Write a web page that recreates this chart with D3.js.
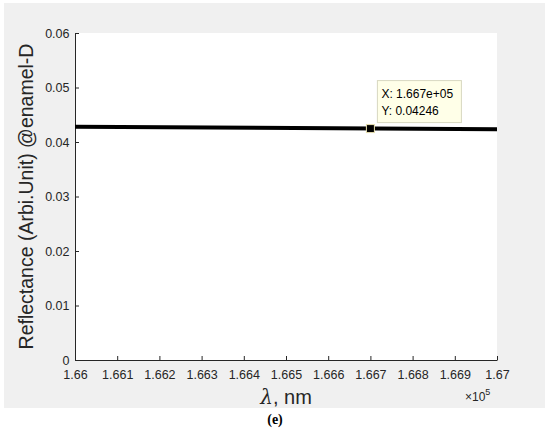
<!DOCTYPE html><html><head><script src="https://cdn.jsdelivr.net/npm/d3@7"></script>
<style>body{margin:0;background:#fff}</style></head><body><svg id="c" width="550" height="428"></svg><script>
const xTicks=[1.66,1.661,1.662,1.663,1.664,1.665,1.666,1.667,1.668,1.669,1.67];
const yTicks=[0,0.01,0.02,0.03,0.04,0.05,0.06];
const lineX=[1.66,1.67];
const lineY=[0.0428,0.04235];
const tipX=1.667, tipY=0.04246;
const svg=d3.select("#c");
svg.append("rect").attr("x",4).attr("y",3).attr("width",541).attr("height",405).attr("fill","#f0f0f0");
const m={l:75,r:497,t:33,b:360};
const x=d3.scaleLinear().domain([1.66,1.67]).range([m.l,m.r]);
const y=d3.scaleLinear().domain([0,0.06]).range([m.b,m.t]);
svg.append("rect").attr("x",m.l).attr("y",m.t).attr("width",m.r-m.l).attr("height",m.b-m.t).attr("fill","#fff");
const f="Arial, 'Liberation Sans', sans-serif";
const xa=svg.append("g").attr("transform",`translate(0,${m.b})`).call(d3.axisBottom(x).tickValues(xTicks).tickFormat(d=>d3.format("")(+d.toFixed(3))).tickSize(-4).tickSizeOuter(0));
const ya=svg.append("g").attr("transform",`translate(${m.l},0)`).call(d3.axisLeft(y).tickValues(yTicks).tickFormat(d=>d===0?"0":d.toFixed(2)).tickSize(-4).tickSizeOuter(0));
[xa,ya].forEach(a=>{a.selectAll("path,line").attr("stroke","#262626");a.selectAll("text").attr("font-family",f).attr("font-size",12.5).attr("fill","#262626");});
xa.selectAll("text").attr("dy","1.25em");
ya.selectAll("text").attr("dx","-0.2em");
const data=lineX.map((v,i)=>[v,lineY[i]]);
svg.append("path").datum(data).attr("d",d3.line().x(d=>x(d[0])).y(d=>y(d[1]))).attr("stroke","#000").attr("stroke-width",4).attr("fill","none");
svg.append("rect").attr("x",x(tipX)-4).attr("y",y(tipY)-4).attr("width",8).attr("height",8).attr("fill","#000").attr("stroke","#e8e0b0");
const bx=x(tipX)+7,by=y(tipY)-48;
svg.append("rect").attr("x",bx).attr("y",by).attr("width",84).attr("height",42).attr("fill","#ffffe8").attr("stroke","#d8d8c0");
svg.append("text").attr("x",bx+4).attr("y",by+17).text("X: 1.667e+05").attr("font-family",f).attr("font-size",12);
svg.append("text").attr("x",bx+4).attr("y",by+34).text("Y: 0.04246").attr("font-family",f).attr("font-size",12);
svg.append("text").attr("transform",`translate(33,${(m.t+m.b)/2}) rotate(-90)`).attr("text-anchor","middle").text("Reflectance (Arbi.Unit) @enamel-D").attr("font-family",f).attr("font-size",19.5).attr("fill","#262626");
const xl=svg.append("text").attr("x",(m.l+m.r)/2).attr("y",404).attr("text-anchor","middle").attr("font-family",f).attr("font-size",20).attr("fill","#262626");
xl.append("tspan").attr("font-family","'DejaVu Serif',serif").attr("font-style","italic").text("λ");
xl.append("tspan").text(", nm");
const e=svg.append("text").attr("x",465).attr("y",401).attr("font-family",f).attr("font-size",12).attr("fill","#262626");
e.append("tspan").text("×10");e.append("tspan").attr("font-size",9).attr("dy",-6).text("5");
svg.append("text").attr("x",275).attr("y",424).attr("text-anchor","middle").attr("font-family","'Liberation Serif',serif").attr("font-weight","bold").attr("font-size",14).text("(e)");
</script></body></html>
